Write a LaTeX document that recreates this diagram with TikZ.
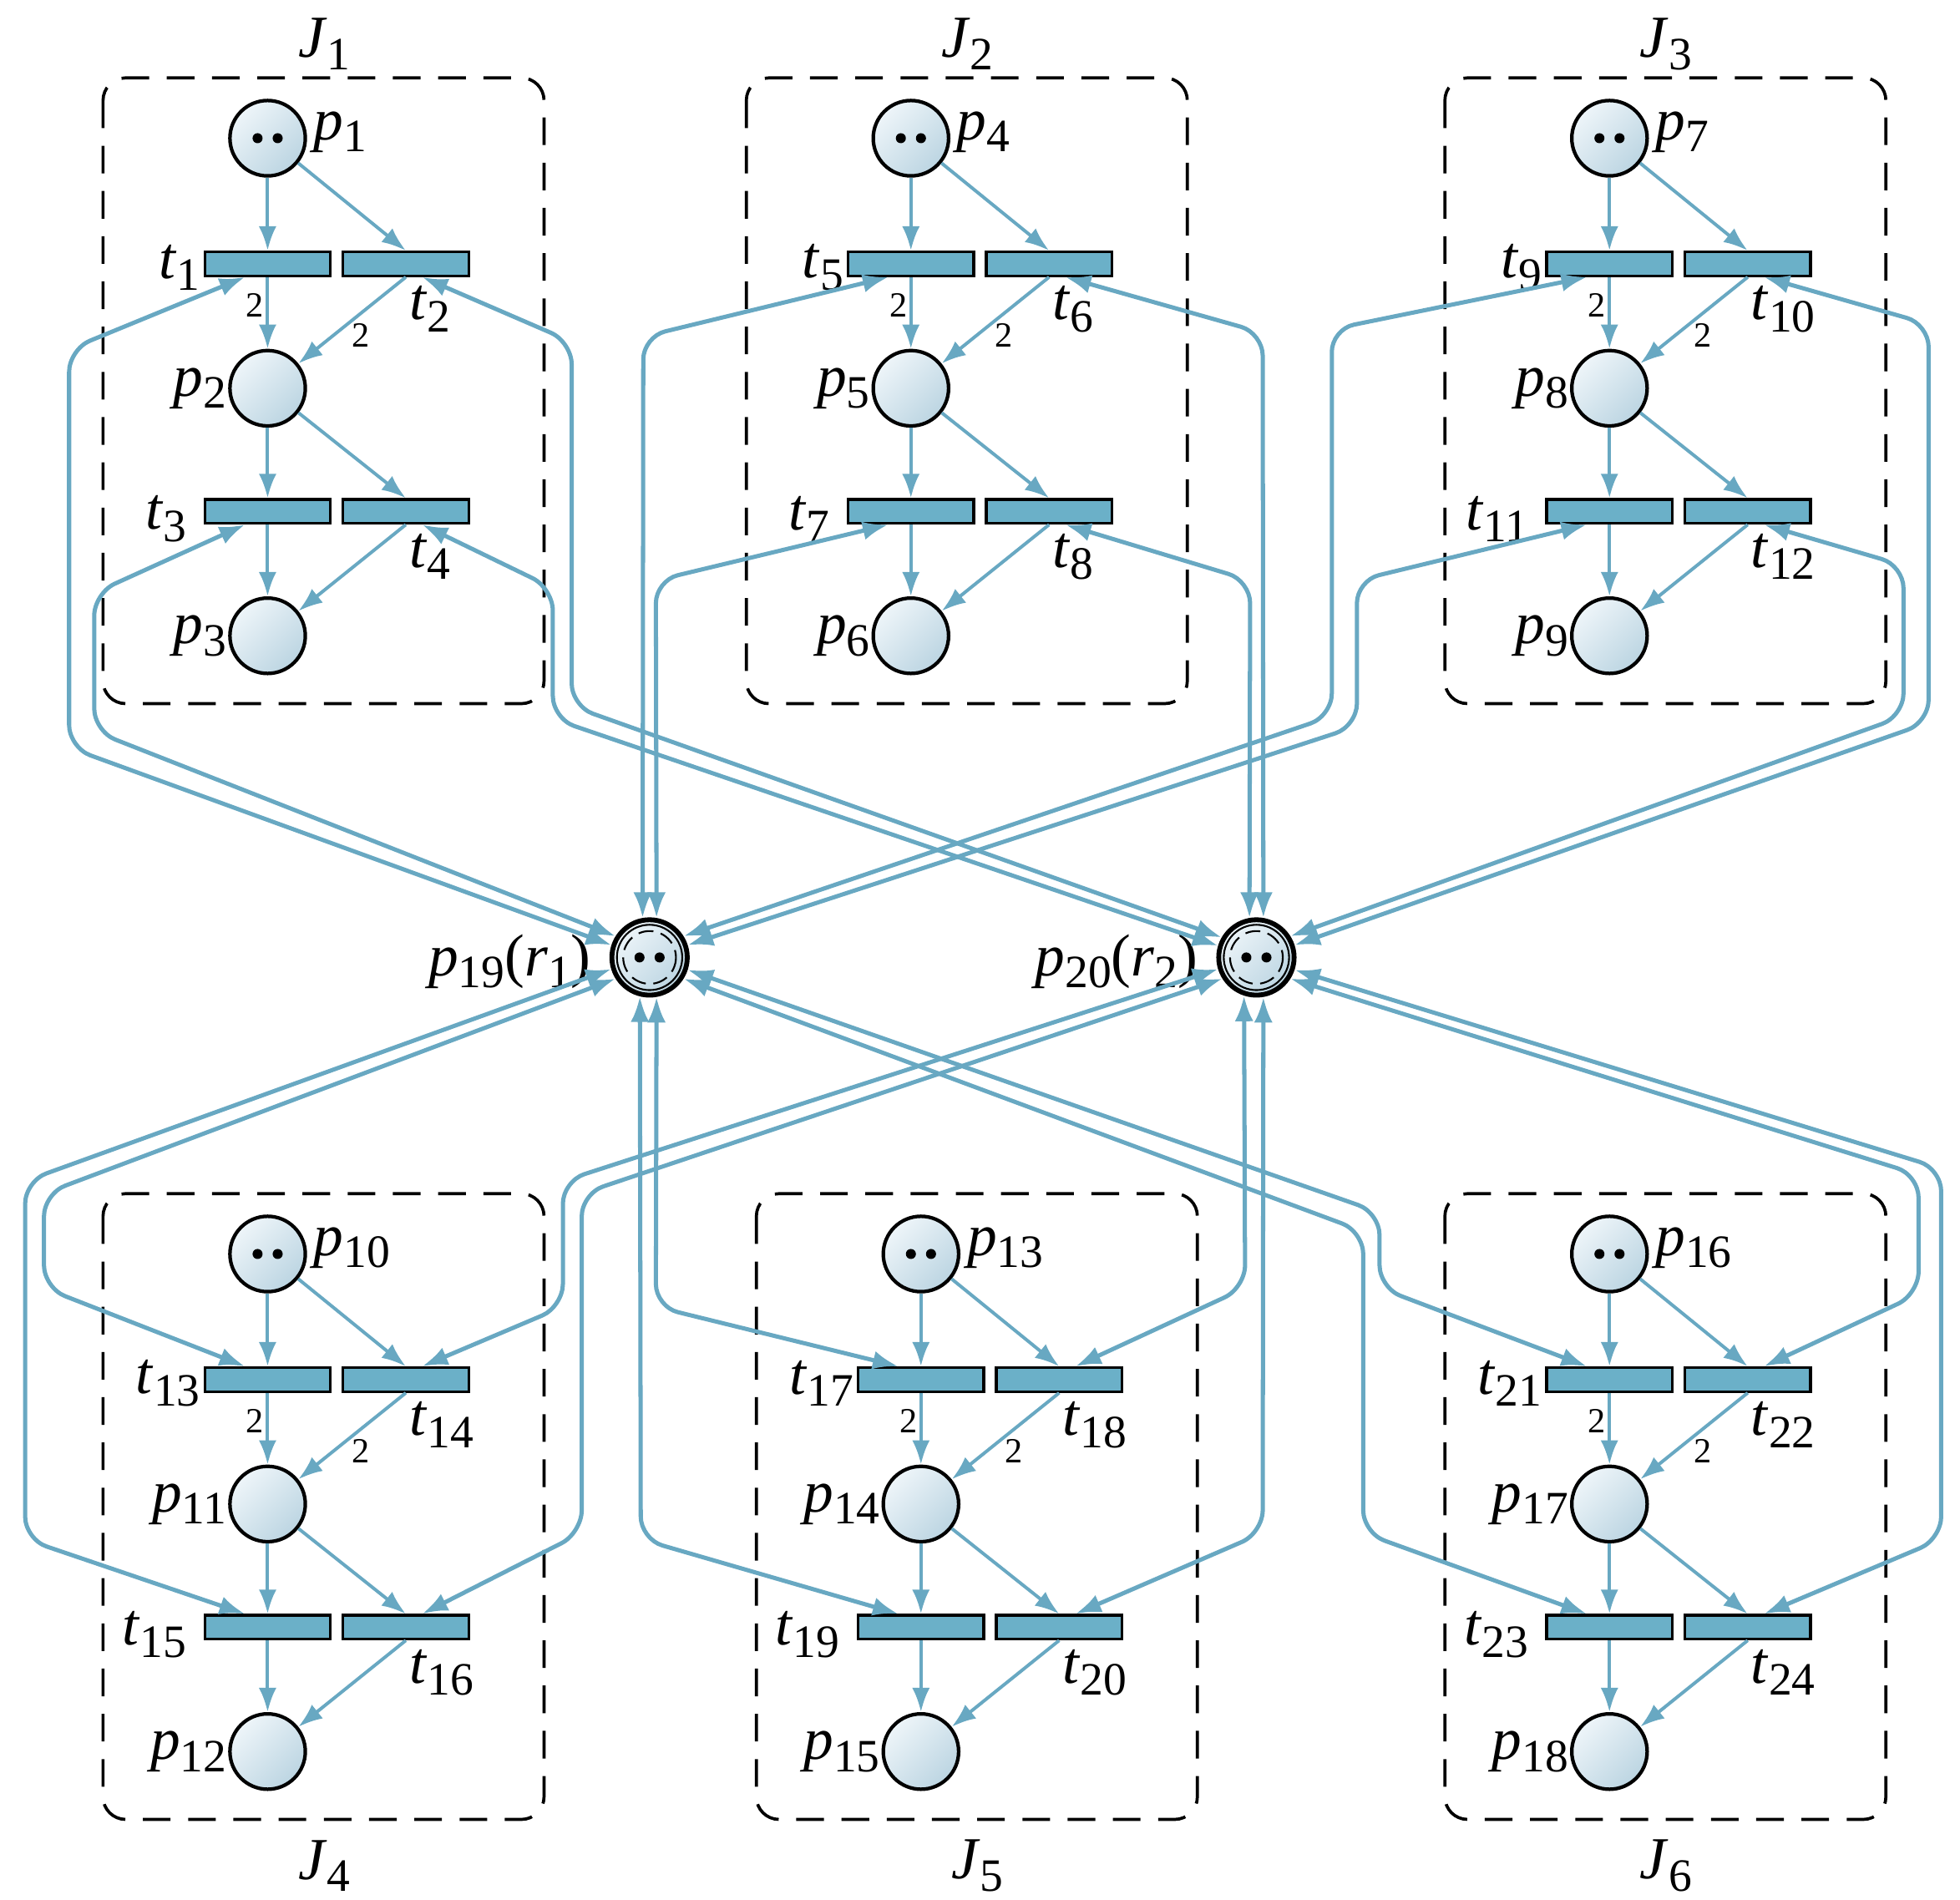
\documentclass[tikz,border=0pt]{standalone}
\usepackage{fontspec}
\setmainfont{Liberation Serif}
\usetikzlibrary{arrows.meta,calc}
\definecolor{arcc}{HTML}{68A8C2}
\definecolor{trfill}{HTML}{6BB0C8}
\definecolor{plA}{HTML}{EEF5F9}
\definecolor{plB}{HTML}{BCD5E2}
\newcommand\plab[2]{\textit{#1}\raisebox{-0.45ex}{\fontsize{10.5}{11}\selectfont #2}}
\tikzset{
  place/.style={circle,draw=black,line width=0.8pt,minimum size=6mm,inner sep=0pt,
    top color=plA,bottom color=plB,shading angle=45},
  trans/.style={rectangle,draw=black,line width=0.6pt,fill=trfill,minimum width=10mm,minimum height=1.9mm,inner sep=0pt},
  arc/.style={draw=arcc,line width=0.75pt,-{Latex[length=5.5pt,width=4pt]}},
  res/.style={draw=arcc,line width=0.95pt,rounded corners=1.8mm,{Latex[length=5.8pt,width=4.2pt]}-{Latex[length=5.8pt,width=4.2pt]}},
  jobbox/.style={draw=black,line width=0.7pt,dash pattern=on 2.2mm off 1.4mm,rounded corners=1.8mm},
  lab/.style={inner sep=0pt,font=\fontsize{13.5}{16}\selectfont},
  wt/.style={inner sep=0pt,font=\fontsize{8}{9}\selectfont}
}
\newcommand\jobblock[6]{%
 \pgfmathtruncatemacro\pA{#3}\pgfmathtruncatemacro\pB{#3+1}\pgfmathtruncatemacro\pC{#3+2}%
 \pgfmathtruncatemacro\tA{#4}\pgfmathtruncatemacro\tB{#4+1}\pgfmathtruncatemacro\tC{#4+2}\pgfmathtruncatemacro\tD{#4+3}%
 \draw[jobbox] (#1-131,#2-48) rectangle (#1+220,#2+450);
 \node[place] (p\pA) at (#1,#2) {};
 \fill (#1-8,#2) circle (4) (#1+8,#2) circle (4);
 \node[place] (p\pB) at (#1,#2+199) {};
 \node[place] (p\pC) at (#1,#2+396) {};
 \node[trans] (t\tA) at (#1,#2+100) {};
 \node[trans] (t\tB) at (#1+110,#2+100) {};
 \node[trans] (t\tC) at (#1,#2+297) {};
 \node[trans] (t\tD) at (#1+110,#2+297) {};
 \draw[arc] (p\pA) -- (t\tA);
 \draw[arc] (p\pA) -- (t\tB.north);
 \draw[arc] (t\tA) -- (p\pB);
 \draw[arc] (t\tB.south) -- (p\pB);
 \draw[arc] (p\pB) -- (t\tC);
 \draw[arc] (p\pB) -- (t\tD.north);
 \draw[arc] (t\tC) -- (p\pC);
 \draw[arc] (t\tD.south) -- (p\pC);
 \node[wt] (w\tA) at (#1-10,#2+133) {2};
 \node[wt] (w\tB) at (#1+74,#2+157) {2};
 \node[lab,anchor=west] (lp\pA) at (#1+36,#2-5) {\plab{p}{\pA}};
 \node[lab,anchor=east] (lp\pB) at (#1-32,#2+199) {\plab{p}{\pB}};
 \node[lab,anchor=east] (lp\pC) at (#1-32,#2+396) {\plab{p}{\pC}};
 \node[lab,anchor=east] (lt\tA) at (#1-53,#2+103) {\plab{t}{\tA}};
 \node[lab,anchor=east] (lt\tC) at (#1-64,#2+303) {\plab{t}{\tC}};
 \node[lab,anchor=north west] (lt\tB) at (#1+112,#2+117) {\plab{t}{\tB}};
 \node[lab,anchor=north west] (lt\tD) at (#1+112,#2+314) {\plab{t}{\tD}};
 \ifnum#6=1 \node[lab] (J#5) at (#1+45,#2-75) {\plab{J}{#5}};
 \else \node[lab] (J#5) at (#1+45,#2+487) {\plab{J}{#5}};\fi
}
\begin{document}
\begin{tikzpicture}[x=0.1mm,y=-0.1mm]
\useasboundingbox (0,0) rectangle (1560,1512);
\jobblock{213}{110}{1}{1}{1}{1}
\jobblock{725}{110}{4}{5}{2}{1}
\jobblock{1281}{110}{7}{9}{3}{1}
\jobblock{213}{998}{10}{13}{4}{0}
\jobblock{733}{998}{13}{17}{5}{0}
\jobblock{1281}{998}{16}{21}{6}{0}
% resource places
\foreach \n/\x/\r in {19/517/1,20/1000/2}{
  \node[place,line width=1.1pt] (p\n) at (\x,762) {};
  \draw[line width=0.4pt] (\x,762) circle (26);
  \draw[line width=0.4pt,dash pattern=on 1.2mm off 0.6mm] (\x,762) circle (21);
  \fill (\x-8,762) circle (4) (\x+8,762) circle (4);
  \node[lab,anchor=east] (lp\n) at (\x-46,765) {\plab{p}{\n}(\plab{r}{\r})};
}
% J1
\draw[res] ($(t1.south)+(-18,0)$) -- (55,278) -- (55,595) -- (p19.162);
\draw[res] ($(t3.south)+(-18,0)$) -- (75,472) -- (75,582) -- (p19.148);
\draw[res] ($(t2.south)+(13,0)$) -- (455,272) -- (455,562) -- (p20.150);
\draw[res] ($(t4.south)+(13,0)$) -- (440,468) -- (440,572) -- (p20.163);
% J2
\draw[res] ($(t5.south)+(-18,0)$) -- (512,268) -- (p19.100);
\draw[res] ($(t7.south)+(-18,0)$) -- (522,462) -- (p19.80);
\draw[res] ($(t6.south)+(13,0)$) -- (1005,265) -- (p20.80);
\draw[res] ($(t8.south)+(13,0)$) -- (995,462) -- (p20.100);
% J3
\draw[res] ($(t9.south)+(-18,0)$) -- (1060,262) -- (1060,570) -- (p19.32);
\draw[res] ($(t11.south)+(-18,0)$) -- (1080,462) -- (1080,578) -- (p19.18);
\draw[res] ($(t10.south)+(13,0)$) -- (1535,258) -- (1535,575) -- (p20.18);
\draw[res] ($(t12.south)+(13,0)$) -- (1515,450) -- (1515,570) -- (p20.32);
% J4
\draw[res] ($(t13.north)+(-18,0)$) -- (35,1025) -- (35,950) -- (p19.212);
\draw[res] ($(t15.north)+(-18,0)$) -- (20,1225) -- (20,940) -- (p19.197);
\draw[res] ($(t14.north)+(13,0)$) -- (448,1040) -- (448,940) -- (p20.197);
\draw[res] ($(t16.north)+(13,0)$) -- (463,1220) -- (463,950) -- (p20.212);
% J5
\draw[res] ($(t17.north)+(-18,0)$) -- (522,1040) -- (p19.280);
\draw[res] ($(t19.north)+(-18,0)$) -- (510,1225) -- (p19.256);
\draw[res] ($(t18.north)+(13,0)$) -- (991,1025) -- (p20.252);
\draw[res] ($(t20.north)+(13,0)$) -- (1005,1220) -- (p20.280);
% J6
\draw[res] ($(t21.north)+(-18,0)$) -- (1098,1025) -- (1098,965) -- (p19.342);
\draw[res] ($(t23.north)+(-18,0)$) -- (1085,1220) -- (1085,980) -- (p19.328);
\draw[res] ($(t22.north)+(13,0)$) -- (1527,1030) -- (1527,935) -- (p20.328);
\draw[res] ($(t24.north)+(13,0)$) -- (1545,1225) -- (1545,930) -- (p20.342);
\end{tikzpicture}
\end{document}
